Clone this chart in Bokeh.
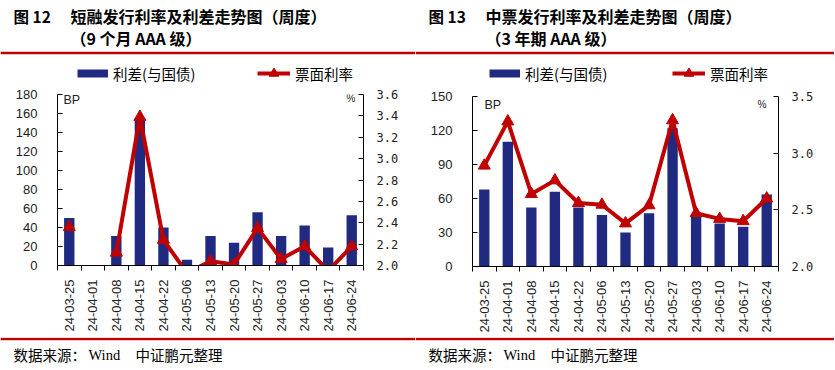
import math
from bokeh.plotting import figure
from bokeh.models import (Range1d, LinearAxis, FixedTicker, Legend, LegendItem,
                          Label, Span, ColumnDataSource, NumeralTickFormatter)
from bokeh.layouts import row, column
from bokeh.embed import file_html
from bokeh.resources import INLINE

# ---------------- data ----------------
dates = ["24-03-25", "24-04-01", "24-04-08", "24-04-15", "24-04-22", "24-05-06",
         "24-05-13", "24-05-20", "24-05-27", "24-06-03", "24-06-10", "24-06-17",
         "24-06-24"]
nan = float("nan")
# 短融 9个月 AAA
cp_spread = [50, nan, 31, 155, 40, 6, 31, 24, 56, 31, 42, 19, 53]
cp_rate = [2.36, nan, 2.12, 3.39, 2.24, 1.93, 2.04, 2.01, 2.35, 2.06, 2.18, 1.95, 2.18]
# 中票 3年期 AAA
mtn_spread = [68, 110, 52, 66, 52, 45.5, 30, 47, 122, 44, 38, 35, 63.5]
mtn_rate = [2.89, 3.28, 2.64, 2.76, 2.56, 2.545, 2.38, 2.54, 3.29, 2.47, 2.42, 2.40, 2.60]

cp_left_ticks = [0, 20, 40, 60, 80, 100, 120, 140, 160, 180]
cp_right_ticks = [2.0, 2.2, 2.4, 2.6, 2.8, 3.0, 3.2, 3.4, 3.6]
mtn_left_ticks = [0, 30, 60, 90, 120, 150]
mtn_right_ticks = [2.0, 2.5, 3.0, 3.5]

spread_name = "利差(与国债)"
rate_name = "票面利率"

BAR = "#1F2A80"
RED = "#C00000"
CJK = "Noto Sans CJK SC"
SANS = "Liberation Sans"

HEAD_H = 85
CHART_H = 252
FOOT_H = 32


def base_fig(width, height, xr, yr):
    return figure(width=width, height=height, x_range=Range1d(*xr), y_range=Range1d(*yr),
                  x_axis_type=None, y_axis_type=None, min_border=0, outline_line_color=None,
                  toolbar_location=None, output_backend="svg", frame_align=False)


def header(x0, x1, fig_no, t1, t2, x_no, x_t, leg1_x, leg2_x):
    p = base_fig(x1 - x0, HEAD_H, (x0, x1), (HEAD_H, 0))
    p.add_layout(Label(x=x_no, y=15.5, text=fig_no, text_baseline="middle", text_font=CJK,
                       text_font_style="bold", text_font_size="15.5px", text_color="black"))
    p.add_layout(Label(x=x_t, y=15.5, text=t1, text_baseline="middle", text_font=CJK,
                       text_font_style="bold", text_font_size="16px", text_color="black"))
    p.add_layout(Label(x=x_t, y=37, text=t2, text_baseline="middle", text_font=CJK,
                       text_font_style="bold", text_font_size="16px", text_color="black"))
    p.add_layout(Span(location=52.5, dimension="width", line_color=RED, line_width=2.5))

    # legend swatches for the chart below (no visible marks of their own)
    sw_src = ColumnDataSource(dict(x=[nan], y=[nan]))
    sw_bar = p.line(x="x", y="y", source=sw_src, line_color=BAR, line_width=8)
    sw_line = p.line(x="x", y="y", source=sw_src, line_color=RED, line_width=4)
    sw_mark = p.scatter(x="x", y="y", source=sw_src, marker="triangle", size=12,
                        fill_color=RED, line_color=RED)
    common = dict(orientation="horizontal", glyph_height=24, padding=0, margin=0,
                  spacing=0, border_line_color=None, background_fill_alpha=0,
                  label_text_font=CJK, label_text_font_size="14.5px",
                  label_text_color="black", label_height=24, label_standoff=5)
    p.add_layout(Legend(items=[LegendItem(label=spread_name, renderers=[sw_bar])],
                        location=(leg1_x, 0), glyph_width=31, **common))
    p.add_layout(Legend(items=[LegendItem(label=rate_name, renderers=[sw_line, sw_mark])],
                        location=(leg2_x, 0), glyph_width=33, **common))
    return p


def footer(x0, x1, x_t):
    y0 = HEAD_H + CHART_H
    p = base_fig(x1 - x0, FOOT_H, (x0, x1), (y0 + FOOT_H, y0))
    p.add_layout(Span(location=338.5, dimension="width", line_color=RED, line_width=2.5))
    p.add_layout(Label(x=x_t, y=354, text="数据来源：", text_baseline="middle", text_font=CJK,
                       text_font_size="14.5px", text_color="black"))
    p.add_layout(Label(x=x_t + 75, y=354, text="Wind", text_baseline="middle",
                       text_font="Liberation Serif", text_font_size="14.5px", text_color="black"))
    p.add_layout(Label(x=x_t + 122, y=354, text="中证鹏元整理", text_baseline="middle",
                       text_font=CJK, text_font_size="14.5px", text_color="black"))
    return p


def chart(width, spread, rate, yl, yr, lticks, rticks, mb, bp_off, pct_off):
    idx = list(range(len(dates)))
    src = ColumnDataSource(dict(x=idx, spread=spread, rate=rate))
    p = figure(width=width, height=CHART_H, x_range=Range1d(-0.5, len(dates) - 0.5),
               y_range=Range1d(*yl), output_backend="svg", toolbar_location=None,
               min_border_left=mb[0], min_border_right=mb[1], min_border_top=mb[2],
               min_border_bottom=mb[3], outline_line_color=None, frame_align=False)
    p.extra_y_ranges = {"pct": Range1d(*yr)}
    p.xgrid.visible = False
    p.ygrid.visible = False

    p.vbar(x="x", top="spread", width=0.44, source=src, fill_color=BAR, line_color=None)
    p.line(x="x", y="rate", source=src, y_range_name="pct", line_color=RED, line_width=4)
    p.scatter(x="x", y="rate", source=src, y_range_name="pct", marker="triangle",
              size=12, fill_color=RED, line_color=RED)

    # x axis
    xa = p.xaxis[0]
    xa.ticker = FixedTicker(ticks=idx, minor_ticks=[i - 0.5 for i in range(len(dates) + 1)])
    xa.major_label_overrides = {i: d for i, d in enumerate(dates)}
    xa.major_label_orientation = math.pi / 2
    xa.major_tick_in = 0
    xa.major_tick_out = 0
    xa.minor_tick_in = 0
    xa.minor_tick_out = 5
    xa.minor_tick_line_color = "black"
    xa.axis_line_color = "black"
    xa.major_label_standoff = 9
    xa.major_label_text_font = SANS
    xa.major_label_text_font_size = "13px"
    xa.major_label_text_color = "#222222"

    # left y axis
    ya = p.yaxis[0]
    ya.ticker = FixedTicker(ticks=lticks)
    ya.major_tick_in = 5
    ya.major_tick_out = 0
    ya.minor_tick_line_color = None
    ya.axis_line_color = "black"
    ya.major_label_standoff = 20
    ya.major_label_text_font = SANS
    ya.major_label_text_font_size = "13px"
    ya.major_label_text_color = "#222222"

    # right y axis
    ra = LinearAxis(y_range_name="pct", ticker=FixedTicker(ticks=rticks),
                    formatter=NumeralTickFormatter(format="0.0"))
    ra.major_tick_in = 5
    ra.major_tick_out = 0
    ra.minor_tick_line_color = None
    ra.axis_line_color = "black"
    ra.major_label_standoff = 13
    ra.major_label_text_font = "DejaVu Sans Mono"
    ra.major_label_text_font_size = "12px"
    ra.major_label_text_color = "#222222"
    p.add_layout(ra, "right")

    # unit labels
    p.add_layout(Label(x=-0.5, y=yl[1], x_offset=bp_off[0], y_offset=bp_off[1], text="BP",
                       text_baseline="middle", text_font=SANS, text_font_size="12.5px",
                       text_color="#222222"))
    p.add_layout(Label(x=len(dates) - 0.5, y=yl[1], x_offset=pct_off[0], y_offset=pct_off[1],
                       text="%", text_align="right", text_baseline="middle",
                       text_font=SANS, text_font_size="10px", text_color="#222222"))
    return p


left = column(
    header(0, 415, "图 12", "短融发行利率及利差走势图（周度）", "（9 个月 AAA 级）", 13, 70,
           77, 257),
    chart(415, cp_spread, cp_rate, (0, 180), (2.0, 3.6), cp_left_ticks, cp_right_ticks,
          (57, 52, 9, 72), (6, -5), (-8, -4)),
    footer(0, 415, 13),
)
right = column(
    header(415, 834, "图 13", "中票发行利率及利差走势图（周度）", "（3 年期 AAA 级）", 428, 485,
           74, 257),
    chart(419, mtn_spread, mtn_rate, (0, 150), (2.0, 3.5), mtn_left_ticks, mtn_right_ticks,
          (57, 56, 11, 71), (12, -8), (-12, -8)),
    footer(415, 834, 428),
)
layout = row(left, right)

open("out.html", "w").write(file_html(layout, INLINE))
